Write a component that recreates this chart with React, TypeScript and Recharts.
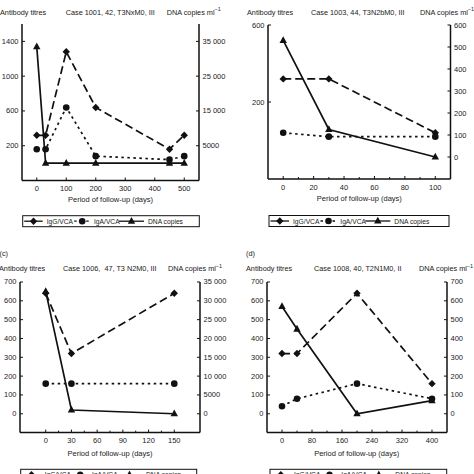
import React from 'react';
import { ComposedChart, Line, XAxis, YAxis } from 'recharts';

// Four follow-up panels: antibody titres (left axis) and EBV DNA load (right axis).

const daysA = [0, 30, 100, 200, 450, 500];
const iggA = [320, 320, 1280, 640, 160, 320];
const igaA = [160, 160, 640, 80, 40, 80];
const dnaA = [33500, 0, 0, 0, 0, 0];

const daysB = [0, 30, 100];
const iggB = [320, 320, 40];
const igaB = [40, 20, 20];
const dnaB = [530, 125, 0];

const daysC = [0, 30, 150];
const iggC = [640, 320, 640];
const igaC = [160, 160, 160];
const dnaC = [32500, 1000, 0];

const daysD = [0, 40, 200, 400];
const iggD = [320, 320, 640, 160];
const igaD = [40, 80, 160, 80];
const dnaD = [570, 450, 0, 70];

const xTicksA = [0, 100, 200, 300, 400, 500];
const xTicksB = [0, 20, 40, 60, 80, 100];
const xMinorB = [10, 30, 50, 70, 90];
const xTicksC = [0, 30, 60, 90, 120, 150];
const xMinorC = [15, 45, 75, 105, 135];
const xTicksD = [0, 80, 160, 240, 320, 400];
const xMinorD = [40, 120, 200, 280, 360];

const leftTicksA = [200, 600, 1000, 1400];
const rightTicksA = [5000, 15000, 25000, 35000];
const leftTicksB = [200, 600];
const rightTicksB = [0, 100, 200, 300, 400, 500, 600];
const leftTicksC = [0, 100, 200, 300, 400, 500, 600, 700];
const rightTicksC = [0, 5000, 10000, 15000, 20000, 25000, 30000, 35000];
const leftTicksD = [0, 100, 200, 300, 400, 500, 600, 700];
const rightTicksD = [0, 100, 200, 300, 400, 500, 600, 700];

const cases = [
  'Case 1001, 42, T3NxM0, III',
  'Case 1003, 44, T3N2bM0, III',
  'Case 1006,\u00a0 47, T3 N2M0, III',
  'Case 1008, 40, T2N1M0, II',
];
const seriesNames = ['IgG/VCA', 'IgA/VCA', 'DNA copies'];

const INK = '#111';
const TXT = '#222';
const FONT = '"Liberation Sans", Arial, Helvetica, sans-serif';
const FS = 7.5;
const LW = 30;
const RW = 40;
const XH = 24;
const TOP = 8;

function Diamond({ cx, cy }: { cx: number; cy: number }) {
  const s = 3.7;
  return <path d={`M${cx},${cy - s}L${cx + s},${cy}L${cx},${cy + s}L${cx - s},${cy}Z`} fill={INK} />;
}
function Dot({ cx, cy }: { cx: number; cy: number }) {
  return <circle cx={cx} cy={cy} r={3.3} fill={INK} />;
}
function Tri({ cx, cy }: { cx: number; cy: number }) {
  return <path d={`M${cx},${cy - 4.2}L${cx + 3.7},${cy + 2.6}L${cx - 3.7},${cy + 2.6}Z`} fill={INK} />;
}

function fmtDna(v: number) {
  if (v >= 10000) {
    const s = String(v);
    return `${s.slice(0, s.length - 3)} ${s.slice(-3)}`;
  }
  return String(v);
}

type PanelProps = {
  frame: [number, number, number, number];
  days: number[];
  igg: number[];
  iga: number[];
  dna: number[];
  xDomain: [number, number];
  xTicks: number[];
  xMinor: number[];
  leftDomain: [number, number];
  leftTicks: number[];
  rightDomain: [number, number];
  rightTicks: number[];
};

function Panel({ frame, days, igg, iga, dna, xDomain, xTicks, xMinor, leftDomain, leftTicks, rightDomain, rightTicks }: PanelProps) {
  const [x0, y0, x1, y1] = frame;
  const fw = x1 - x0;
  const fh = y1 - y0;
  const rows = days.map((day, i) => ({ day, igg: igg[i], iga: iga[i], dna: dna[i] }));
  const allX = [...xTicks, ...xMinor].sort((a, b) => a - b);
  const axisLine = { stroke: INK, strokeWidth: 1.5 };
  const xr = LW + fw;
  const yb = TOP + fh;

  // inward tick marks + labels, drawn per tick
  const bottomTick = (p: any) => {
    const v = p.payload.value;
    const major = xTicks.includes(v);
    return (
      <g key={`xb${v}`}>
        <line x1={p.x} x2={p.x} y1={yb} y2={yb - (major ? 3 : 2)} stroke={INK} strokeWidth={1} />
        {major && (
          <text x={p.x} y={yb + 8} textAnchor="middle" dominantBaseline="central" fontSize={FS} fill={TXT} fontFamily={FONT}>
            {v}
          </text>
        )}
      </g>
    );
  };
  const leftTick = (p: any) => (
    <g key={`yl${p.payload.value}`}>
      <line x1={LW} x2={LW + 3} y1={p.y} y2={p.y} stroke={INK} strokeWidth={1} />
      <text x={LW - 3.5} y={p.y} textAnchor="end" dominantBaseline="central" fontSize={FS} fill={TXT} fontFamily={FONT}>
        {p.payload.value}
      </text>
    </g>
  );
  const rightTick = (p: any) => (
    <g key={`yr${p.payload.value}`}>
      <line x1={xr - 3} x2={xr} y1={p.y} y2={p.y} stroke={INK} strokeWidth={1} />
      <text x={xr + 3.5} y={p.y} textAnchor="start" dominantBaseline="central" fontSize={FS} fill={TXT} fontFamily={FONT}>
        {fmtDna(p.payload.value)}
      </text>
    </g>
  );

  return (
    <div style={{ position: 'absolute', left: x0 - LW, top: y0 - TOP }}>
      <ComposedChart width={fw + LW + RW} height={fh + XH + TOP} data={rows} margin={{ top: TOP, right: 0, bottom: 0, left: 0 }}>
        <XAxis
          xAxisId="b"
          dataKey="day"
          type="number"
          domain={xDomain}
          allowDataOverflow
          ticks={allX}
          interval={0}
          height={XH}
          axisLine={axisLine}
          tickLine={false}
          tick={bottomTick}
        />
        <XAxis xAxisId="t" orientation="top" type="number" domain={xDomain} allowDataOverflow height={0} tick={false} tickLine={false} axisLine={axisLine} />
        <YAxis
          yAxisId="l"
          type="number"
          domain={leftDomain}
          allowDataOverflow
          ticks={leftTicks}
          interval={0}
          width={LW}
          axisLine={axisLine}
          tickLine={false}
          tick={leftTick}
        />
        <YAxis
          yAxisId="r"
          orientation="right"
          type="number"
          domain={rightDomain}
          allowDataOverflow
          ticks={rightTicks}
          interval={0}
          width={RW}
          axisLine={axisLine}
          tickLine={false}
          tick={rightTick}
        />
        <Line
          xAxisId="b"
          yAxisId="l"
          dataKey="igg"
          stroke={INK}
          strokeWidth={1.7}
          strokeDasharray="8 4"
          isAnimationActive={false}
          dot={(p: any) => <Diamond key={`g${p.index}`} cx={p.cx} cy={p.cy} />}
        />
        <Line
          xAxisId="b"
          yAxisId="l"
          dataKey="iga"
          stroke={INK}
          strokeWidth={1.7}
          strokeDasharray="2.5 3.5"
          isAnimationActive={false}
          dot={(p: any) => <Dot key={`a${p.index}`} cx={p.cx} cy={p.cy} />}
        />
        <Line
          xAxisId="b"
          yAxisId="r"
          dataKey="dna"
          stroke={INK}
          strokeWidth={1.7}
          isAnimationActive={false}
          dot={(p: any) => <Tri key={`d${p.index}`} cx={p.cx} cy={p.cy} />}
        />
      </ComposedChart>
    </div>
  );
}

function Legend({ x, y, w }: { x: number; y: number; w: number }) {
  const cy = y + 5.5;
  return (
    <g fontSize={6.7}>
      <rect x={x} y={y} width={w} height={11} fill="none" stroke={INK} strokeWidth={1} />
      <line x1={x + 1.5} x2={x + 20} y1={cy} y2={cy} stroke={INK} strokeWidth={1.3} />
      <Diamond cx={x + 10.8} cy={cy} />
      <text x={x + 24} y={cy} dominantBaseline="central" fill={TXT}>{seriesNames[0]}</text>
      <line x1={x + 51.5} x2={x + 67.5} y1={cy} y2={cy} stroke={INK} strokeWidth={1.3} strokeDasharray="2.5 3.5" />
      <Dot cx={x + 59.5} cy={cy} />
      <text x={x + 71.3} y={cy} dominantBaseline="central" fill={TXT}>{seriesNames[1]}</text>
      <line x1={x + 96.3} x2={x + 121.3} y1={cy} y2={cy} stroke={INK} strokeWidth={1.3} />
      <Tri cx={x + 108.8} cy={cy} />
      <text x={x + 125.3} y={cy} dominantBaseline="central" fill={TXT}>{seriesNames[2]}</text>
    </g>
  );
}

function Header({ y, xa, xc, xd, title }: { y: number; xa: number; xc: number; xd: number; title: string }) {
  return (
    <g fontSize={7.3}>
      <text x={xa} y={y} dominantBaseline="central" fill={TXT}>Antibody titres</text>
      <text x={xc} y={y} dominantBaseline="central" fill={TXT}>{title}</text>
      <text x={xd} y={y} dominantBaseline="central" fill={TXT}>
        DNA copies ml
        <tspan dy={-3} fontSize={5.5}>−1</tspan>
      </text>
    </g>
  );
}

export default function App() {
  return (
    <div style={{ position: 'fixed', left: 0, top: 0, width: 474, height: 474, overflow: 'hidden', background: '#fff', fontFamily: FONT }}>
      <Panel
        frame={[22, 24, 199, 180.5]}
        days={daysA}
        igg={iggA}
        iga={igaA}
        dna={dnaA}
        xDomain={[-50, 550]}
        xTicks={xTicksA}
        xMinor={[]}
        leftDomain={[-200, 1600]}
        leftTicks={leftTicksA}
        rightDomain={[-5000, 40000]}
        rightTicks={rightTicksA}
      />
      <Panel
        frame={[268, 24.5, 450.5, 178.5]}
        days={daysB}
        igg={iggB}
        iga={igaB}
        dna={dnaB}
        xDomain={[-10, 110]}
        xTicks={xTicksB}
        xMinor={xMinorB}
        leftDomain={[-200, 600]}
        leftTicks={leftTicksB}
        rightDomain={[-100, 600]}
        rightTicks={rightTicksB}
      />
      <Panel
        frame={[20, 281.7, 200, 432.3]}
        days={daysC}
        igg={iggC}
        iga={igaC}
        dna={dnaC}
        xDomain={[-30, 180]}
        xTicks={xTicksC}
        xMinor={xMinorC}
        leftDomain={[-100, 700]}
        leftTicks={leftTicksC}
        rightDomain={[-5000, 35000]}
        rightTicks={rightTicksC}
      />
      <Panel
        frame={[266.7, 281.7, 446.7, 432.3]}
        days={daysD}
        igg={iggD}
        iga={igaD}
        dna={dnaD}
        xDomain={[-40, 440]}
        xTicks={xTicksD}
        xMinor={xMinorD}
        leftDomain={[-100, 700]}
        leftTicks={leftTicksD}
        rightDomain={[-100, 700]}
        rightTicks={rightTicksD}
      />
      <svg
        width={474}
        height={474}
        style={{ position: 'absolute', left: 0, top: 0, pointerEvents: 'none' }}
        fontFamily={FONT}
        fontSize={FS}
        fill={TXT}
      >
        <Header y={12} xa={0} xc={65.7} xd={166.7} title={cases[0]} />
        <Header y={12} xa={247} xc={311} xd={420} title={cases[1]} />
        <text x={-0.5} y={253} dominantBaseline="central" fontSize={7.3} fill={TXT}>(c)</text>
        <text x={246} y={253} dominantBaseline="central" fontSize={7.3} fill={TXT}>(d)</text>
        <Header y={268.5} xa={-1} xc={63} xd={168} title={cases[2]} />
        <Header y={268.5} xa={246} xc={314} xd={419} title={cases[3]} />
        <text x={110.5} y={199.5} textAnchor="middle" dominantBaseline="central" fill={TXT}>Period of follow-up (days)</text>
        <text x={359.3} y={198} textAnchor="middle" dominantBaseline="central" fill={TXT}>Period of follow-up (days)</text>
        <text x={110} y={453.5} textAnchor="middle" dominantBaseline="central" fill={TXT}>Period of follow-up (days)</text>
        <text x={356.7} y={453.5} textAnchor="middle" dominantBaseline="central" fill={TXT}>Period of follow-up (days)</text>
        <Legend x={22.7} y={215.7} w={176.6} />
        <Legend x={269} y={215.5} w={180} />
        <Legend x={20.7} y={469.3} w={176} />
        <Legend x={270} y={469.3} w={176.7} />
      </svg>
    </div>
  );
}
